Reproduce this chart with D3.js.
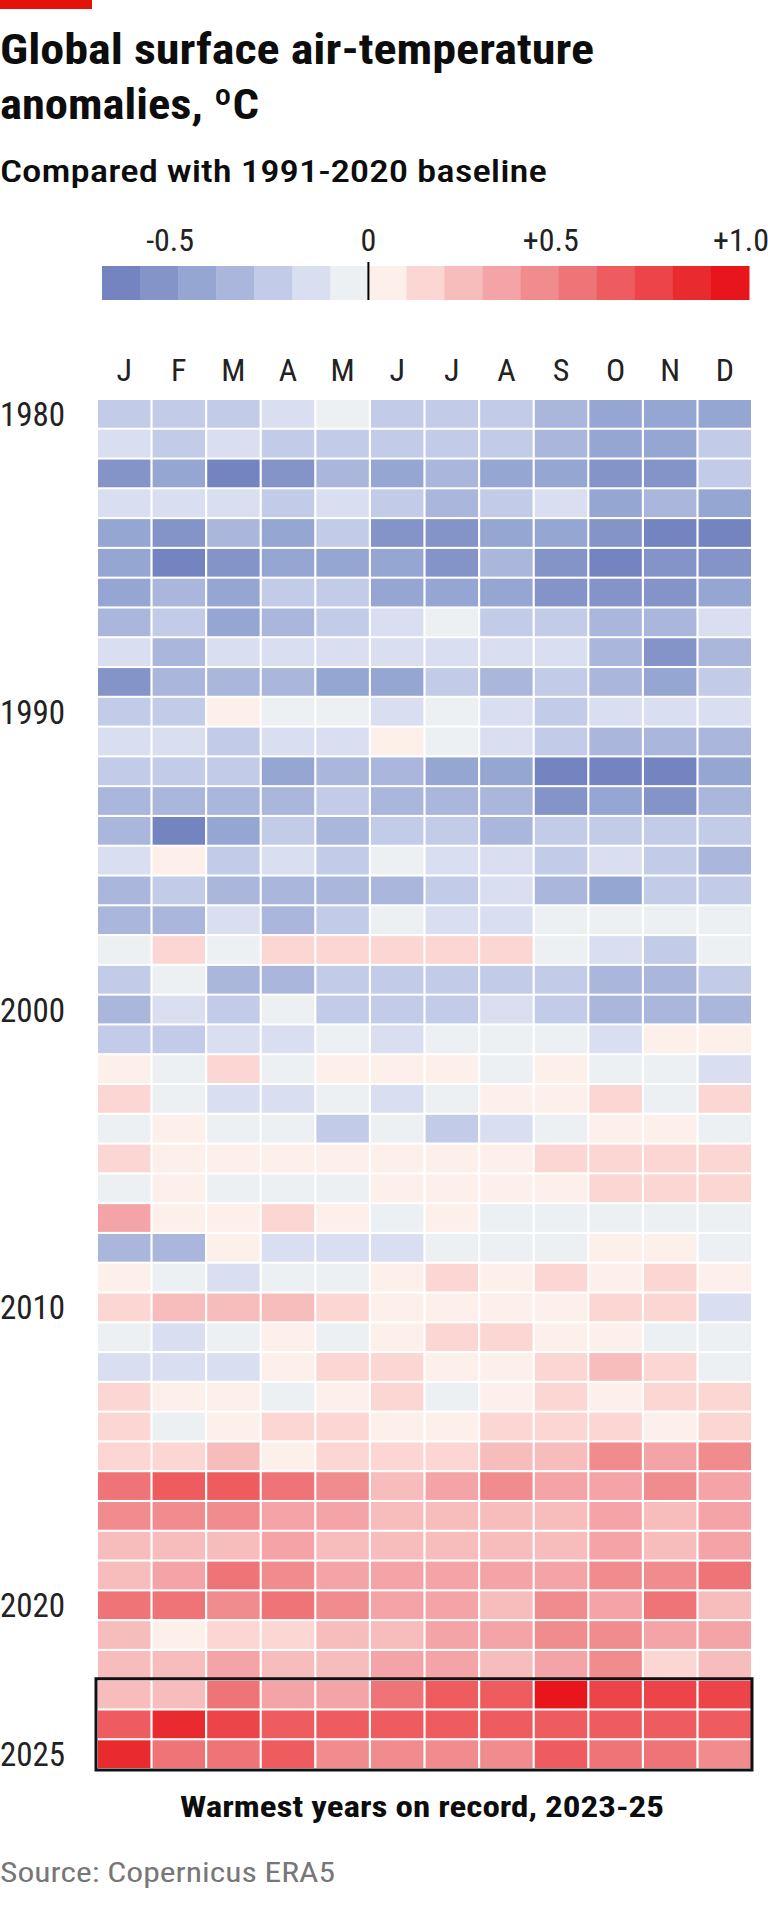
<!DOCTYPE html>
<html><head><meta charset="utf-8">
<script src="https://cdn.jsdelivr.net/npm/d3@7"></script>
<style>body{margin:0;background:#fff}svg{display:block}text{font-family:"Liberation Sans Narrow","Roboto Condensed",Roboto,sans-serif}</style>
</head><body>
<script>
const months = ["J","F","M","A","M","J","J","A","S","O","N","D"];
const years = d3.range(1980, 2026);
const yearTicks = [1980, 1990, 2000, 2010, 2020, 2025];
const legendTicks = [-0.5, 0, 0.5, 1.0];
const legendLabels = ["-0.5", "0", "+0.5", "+1.0"];
const thresholds = d3.range(-0.6, 1.0001, 0.1).map(v => +v.toFixed(1));
const palette = ["#7484c0","#8494c8","#96a6d2","#aab6db","#c2cbe8","#d9dff0","#edf0f2",
  "#fdf0ea","#fbd6d2","#f7bcbc","#f4a4a6","#f18c8e","#ef7477","#ee5c60","#ec4448","#e92a2f","#e8161c"];
// anomaly values (°C), one row per year J..D
const anomalies = [
[-0.25,-0.25,-0.25,-0.15,-0.05,-0.25,-0.25,-0.25,-0.35,-0.45,-0.45,-0.45],
[-0.15,-0.25,-0.15,-0.25,-0.25,-0.25,-0.25,-0.25,-0.35,-0.45,-0.45,-0.25],
[-0.55,-0.45,-0.65,-0.55,-0.35,-0.45,-0.35,-0.45,-0.45,-0.55,-0.55,-0.25],
[-0.15,-0.15,-0.15,-0.25,-0.15,-0.25,-0.35,-0.25,-0.15,-0.45,-0.35,-0.45],
[-0.45,-0.55,-0.35,-0.45,-0.25,-0.55,-0.55,-0.45,-0.45,-0.55,-0.65,-0.65],
[-0.45,-0.65,-0.55,-0.45,-0.45,-0.45,-0.55,-0.35,-0.55,-0.65,-0.55,-0.55],
[-0.45,-0.35,-0.45,-0.25,-0.25,-0.45,-0.45,-0.45,-0.55,-0.55,-0.55,-0.45],
[-0.35,-0.25,-0.45,-0.35,-0.25,-0.15,-0.05,-0.25,-0.25,-0.35,-0.35,-0.15],
[-0.15,-0.35,-0.15,-0.15,-0.15,-0.15,-0.15,-0.15,-0.15,-0.35,-0.55,-0.35],
[-0.55,-0.35,-0.35,-0.35,-0.45,-0.45,-0.25,-0.35,-0.25,-0.35,-0.45,-0.25],
[-0.25,-0.25,0.05,-0.05,-0.05,-0.15,-0.05,-0.15,-0.25,-0.15,-0.15,-0.15],
[-0.15,-0.15,-0.25,-0.15,-0.15,0.05,-0.05,-0.15,-0.25,-0.35,-0.35,-0.35],
[-0.25,-0.25,-0.25,-0.45,-0.35,-0.35,-0.45,-0.45,-0.65,-0.65,-0.65,-0.45],
[-0.35,-0.35,-0.35,-0.35,-0.25,-0.35,-0.35,-0.35,-0.55,-0.45,-0.55,-0.35],
[-0.35,-0.65,-0.45,-0.25,-0.35,-0.25,-0.25,-0.35,-0.25,-0.25,-0.25,-0.25],
[-0.15,0.05,-0.25,-0.15,-0.25,-0.05,-0.15,-0.15,-0.25,-0.15,-0.25,-0.35],
[-0.35,-0.25,-0.35,-0.35,-0.35,-0.35,-0.25,-0.15,-0.35,-0.45,-0.25,-0.25],
[-0.35,-0.35,-0.15,-0.35,-0.25,-0.05,-0.15,-0.15,-0.05,-0.05,-0.05,-0.05],
[-0.05,0.15,-0.05,0.15,0.15,0.15,0.15,0.15,-0.05,-0.15,-0.25,-0.05],
[-0.25,-0.05,-0.35,-0.35,-0.25,-0.25,-0.25,-0.25,-0.25,-0.35,-0.35,-0.25],
[-0.35,-0.15,-0.25,-0.05,-0.25,-0.25,-0.25,-0.15,-0.25,-0.35,-0.35,-0.35],
[-0.25,-0.25,-0.15,-0.15,-0.05,-0.15,-0.05,-0.05,-0.05,-0.15,0.05,0.05],
[0.05,-0.05,0.15,-0.05,0.05,0.05,0.05,-0.05,0.05,-0.05,-0.05,-0.15],
[0.15,-0.05,-0.15,-0.15,-0.05,-0.15,-0.05,0.05,0.05,0.15,-0.05,0.15],
[-0.05,0.05,-0.05,-0.05,-0.25,-0.05,-0.25,-0.15,-0.05,0.05,0.05,-0.05],
[0.15,0.05,0.05,0.05,0.05,0.05,0.05,0.05,0.15,0.15,0.15,0.15],
[-0.05,0.05,-0.05,-0.05,-0.05,0.05,0.05,0.05,0.05,0.15,0.15,0.15],
[0.35,0.05,0.05,0.15,0.05,-0.05,0.05,-0.05,-0.05,-0.05,-0.05,-0.05],
[-0.35,-0.35,0.05,-0.15,-0.15,-0.15,-0.05,-0.05,-0.05,0.05,0.05,-0.05],
[0.05,-0.05,-0.15,-0.05,-0.05,0.05,0.15,0.05,0.15,0.05,0.15,0.05],
[0.15,0.25,0.25,0.25,0.15,0.05,0.05,0.05,0.05,0.15,0.15,-0.15],
[-0.05,-0.15,-0.05,0.05,-0.05,0.05,0.15,0.15,0.05,0.05,-0.05,-0.05],
[-0.15,-0.15,-0.15,0.05,0.15,0.15,0.05,0.05,0.15,0.25,0.15,-0.05],
[0.15,0.05,0.05,-0.05,0.05,0.15,-0.05,0.05,0.15,0.05,0.15,0.15],
[0.15,-0.05,0.05,0.15,0.15,0.05,0.05,0.15,0.15,0.15,0.05,0.15],
[0.15,0.15,0.25,0.05,0.15,0.15,0.15,0.25,0.25,0.45,0.35,0.45],
[0.55,0.65,0.65,0.55,0.45,0.25,0.35,0.45,0.35,0.35,0.45,0.35],
[0.45,0.45,0.45,0.35,0.35,0.25,0.25,0.25,0.25,0.35,0.25,0.35],
[0.25,0.25,0.25,0.35,0.25,0.25,0.25,0.25,0.25,0.35,0.25,0.35],
[0.25,0.35,0.55,0.45,0.35,0.35,0.35,0.35,0.35,0.45,0.45,0.55],
[0.55,0.55,0.45,0.55,0.45,0.35,0.35,0.25,0.45,0.35,0.55,0.25],
[0.25,0.05,0.15,0.15,0.25,0.25,0.35,0.35,0.45,0.45,0.35,0.35],
[0.25,0.25,0.35,0.25,0.25,0.35,0.35,0.25,0.35,0.45,0.15,0.25],
[0.25,0.25,0.55,0.35,0.35,0.55,0.65,0.65,0.95,0.75,0.75,0.75],
[0.65,0.85,0.75,0.65,0.65,0.65,0.65,0.65,0.65,0.65,0.65,0.65],
[0.85,0.55,0.55,0.65,0.45,0.45,0.45,0.45,0.65,0.55,0.55,0.45]
];

const W = 768, H = 1912;
const svg = d3.select("body").append("svg").attr("width", W).attr("height", H);
const color = d3.scaleThreshold().domain(thresholds).range(palette);

svg.append("rect").attr("x",0).attr("y",0).attr("width",92).attr("height",9).attr("fill","#e3120b");
const title = ["Global surface air-temperature","anomalies, ºC"];
const titleW = [594, 259];
svg.selectAll("text.t").data(title).join("text").attr("class","t")
  .attr("x",0).attr("y",(d,i)=>64+i*55).attr("font-size",42).attr("font-weight","bold").attr("fill","#0d0d0d")
  .attr("textLength",(d,i)=>titleW[i]).attr("lengthAdjust","spacingAndGlyphs").text(d=>d);
svg.append("text").attr("x",0).attr("y",182).attr("font-size",31).attr("fill","#0d0d0d").attr("font-weight",500)
  .attr("textLength",547).attr("lengthAdjust","spacingAndGlyphs").text("Compared with 1991-2020 baseline");

// legend
const lx = d3.scaleLinear().domain([-0.7, 1.0]).range([102, 749]);
const legBins = d3.range(17).map(i => +(-0.7 + i*0.1).toFixed(1));
svg.selectAll("rect.leg").data(legBins).join("rect").attr("class","leg")
  .attr("x", d=>lx(d)).attr("y",266).attr("width", lx(0.1)-lx(0)+0.5).attr("height",34)
  .attr("fill", d=>color(d+0.05));
svg.append("line").attr("x1",lx(0)).attr("x2",lx(0)).attr("y1",262).attr("y2",300).attr("stroke","#000").attr("stroke-width",2);
svg.selectAll("text.lt").data(legendTicks).join("text").attr("class","lt")
  .attr("x", d=> d===0 ? lx(d) : lx(d)-8).attr("y",251).attr("text-anchor","middle")
  .attr("font-size",32).attr("fill","#222").text((d,i)=>legendLabels[i]);

// grid
const x = d3.scaleBand().domain(d3.range(12)).range([98, 751]).paddingInner(0.04);
const y = d3.scaleBand().domain(years).range([400, 1768]).paddingInner(0.07);
svg.selectAll("text.m").data(months).join("text").attr("class","m")
  .attr("x",(d,i)=>x(i)+x.bandwidth()/2).attr("y",381).attr("text-anchor","middle")
  .attr("font-size",32).attr("fill","#222").text(d=>d);
const cells = [];
years.forEach((yr,r)=>anomalies[r].forEach((v,c)=>cells.push({yr,c,v})));
svg.selectAll("rect.c").data(cells).join("rect").attr("class","c")
  .attr("x",d=>x(d.c)).attr("y",d=>y(d.yr)).attr("width",x.bandwidth()).attr("height",y.bandwidth())
  .attr("fill",d=>color(d.v));
svg.selectAll("text.yr").data(yearTicks).join("text").attr("class","yr")
  .attr("x",0).attr("y",d=>y(d)+y.bandwidth()/2+12).attr("font-size",33).attr("fill","#222").text(d=>d);

// highlight box
svg.append("rect").attr("x",96).attr("y",y(2023)-2).attr("width",656)
  .attr("height",y(2025)+y.bandwidth()-y(2023)+4).attr("fill","none").attr("stroke","#111").attr("stroke-width",3);
svg.append("text").attr("x",422).attr("y",1817).attr("text-anchor","middle").attr("font-size",29)
  .attr("font-weight","bold").attr("fill","#0d0d0d").attr("textLength",484).attr("lengthAdjust","spacingAndGlyphs")
  .text("Warmest years on record, 2023-25");
svg.append("text").attr("x",0).attr("y",1882).attr("font-size",28).attr("fill","#777")
  .attr("textLength",335).attr("lengthAdjust","spacingAndGlyphs").text("Source: Copernicus ERA5");
</script>
</body></html>
